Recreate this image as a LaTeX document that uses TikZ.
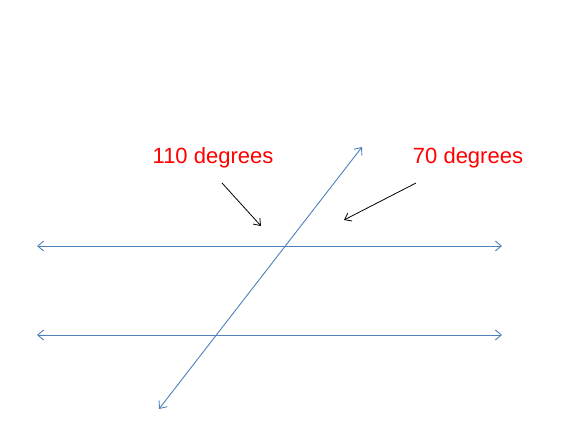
\documentclass[tikz,border=0pt]{standalone}
\usepackage{fontspec}
\setmainfont{Liberation Sans}
\usetikzlibrary{arrows.meta}
\definecolor{lineblue}{RGB}{79,129,189}
\tikzset{
  bline/.style={draw=lineblue, line width=0.9pt, {Straight Barb[length=6pt,width=10pt]}-{Straight Barb[length=6pt,width=10pt]}},
  pointer/.style={draw=black, line width=0.8pt, -{Straight Barb[length=6pt,width=9pt]}},
  lbl/.style={text=red, font=\fontsize{22}{25}\selectfont, inner sep=0pt}
}
\begin{document}
\begin{tikzpicture}[x=1pt,y=-1pt]
\useasboundingbox (0,0) rectangle (577,433);
\fill[white] (0,0) rectangle (577,433);
\coordinate (h1l) at (37,246);
\coordinate (h1r) at (502,246);
\coordinate (h2l) at (37,335);
\coordinate (h2r) at (502,335);
\coordinate (tt) at (362,147);
\coordinate (tb) at (159,409);
\draw[bline] (h1l) -- (h1r);
\draw[bline] (h2l) -- (h2r);
\draw[bline] (tb) -- (tt);
\node[lbl] (l110) at (213,158) {110 degrees};
\node[lbl] (l70) at (468,158) {70 degrees};
\coordinate (a1s) at (222,183);
\coordinate (a1e) at (261,226);
\coordinate (a2s) at (416,183);
\coordinate (a2e) at (344,220);
\draw[pointer] (a1s) -- (a1e);
\draw[pointer] (a2s) -- (a2e);
\end{tikzpicture}
\end{document}
